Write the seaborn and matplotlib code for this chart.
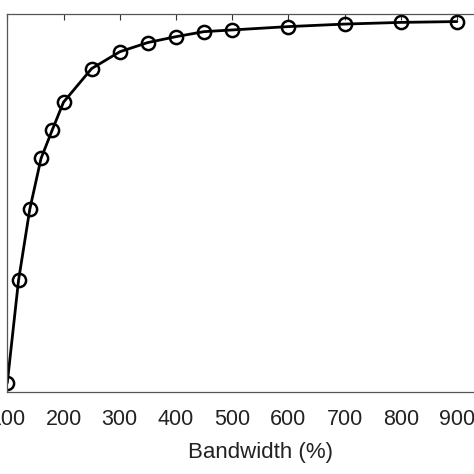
import numpy as np
import pandas as pd
import seaborn as sns
import matplotlib
matplotlib.use('Agg')
import matplotlib.pyplot as plt

bandwidth = [100, 120, 140, 160, 180, 200, 250, 300, 350, 400, 450, 500, 600, 700, 800, 900]
response = [-0.39, 0.83, 1.675, 2.28, 2.62, 2.95, 3.35, 3.55, 3.66, 3.73, 3.79, 3.81, 3.85, 3.88, 3.90, 3.91]
x_ticks = [100, 200, 300, 400, 500, 600, 700, 800, 900]
y_ticks = [0, 1, 2, 3, 4]

df = pd.DataFrame({'bw': bandwidth, 'val': response})

sns.set_theme(style="white")
plt.rcParams['font.family'] = ['Liberation Sans', 'DejaVu Sans']

fig = plt.figure(figsize=(4.74, 4.74), dpi=100)
# axes extends past the right edge (cropped figure)
px = 0.562  # pixels per bandwidth unit
left = 7.3 / 474
bottom = (474 - 392) / 474
width = 900 * px / 474
height = (392 - 14) / 474
ax = fig.add_axes([left, bottom, width, height])

sns.lineplot(data=df, x='bw', y='val', color='black', linewidth=2.0,
             marker='o', markersize=9.5, markerfacecolor='none',
             markeredgecolor='black', markeredgewidth=1.8, ax=ax)

ax.set_xlim(100, 1000)
ax.set_ylim(-0.5, 4)
ax.set_xticks(x_ticks)
ax.set_yticks(y_ticks)
ax.set_yticklabels([])
ax.tick_params(axis='both', direction='in', length=4, width=0.8, color='#333333',
               top=True, right=True, labelsize=15.5, pad=12, labelcolor='#222222')
for s in ax.spines.values():
    s.set_color('#555555')
    s.set_linewidth(0.9)
ax.set_xlabel("Bandwidth (%)", fontsize=16, labelpad=9, color='#222222')
ax.set_ylabel("")

fig.savefig('out.png', dpi=100)
